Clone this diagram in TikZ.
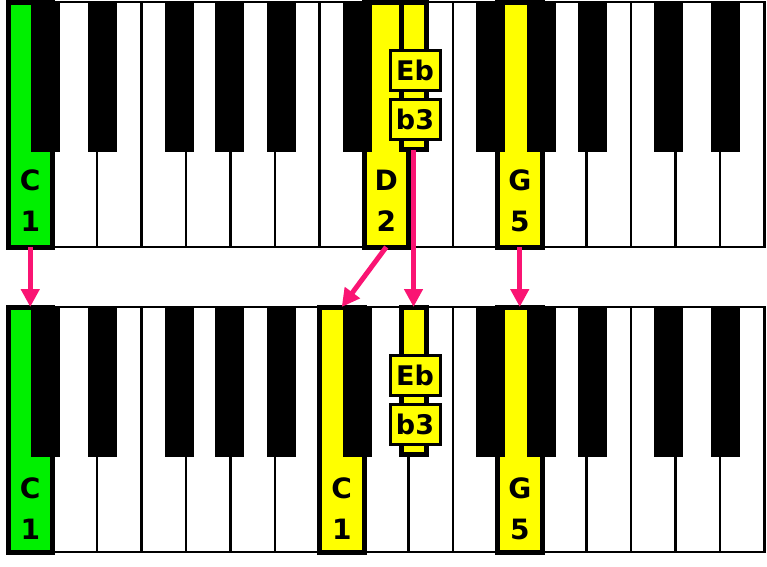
\documentclass[tikz,border=0pt]{standalone}
\usepackage{fontspec}
\setmainfont{DejaVu Sans}
\usepackage{xcolor}
\usepackage{tikz}
\usetikzlibrary{arrows.meta, positioning}
\definecolor{keygreen}{RGB}{0,240,0}
\definecolor{keyyellow}{RGB}{255,255,0}
\definecolor{arrowpink}{RGB}{250,20,115}
\tikzstyle{whitekey} = [rectangle, draw=black, line width=2.5pt, fill=white, minimum width=44.5pt, minimum height=245pt, inner sep=0pt, outer sep=0pt, anchor=north west]
\tikzstyle{blackkey} = [rectangle, fill=black, minimum width=29pt, minimum height=150pt, inner sep=0pt, outer sep=0pt, anchor=north]
\tikzstyle{hlwhite} = [whitekey, line width=5pt]
\tikzstyle{hlblack} = [blackkey, draw=black, fill=keyyellow, line width=5pt, minimum width=25pt, minimum height=147.5pt]
\tikzstyle{notebox} = [rectangle, draw=black, line width=3pt, fill=keyyellow, minimum width=50pt, minimum height=40pt, inner sep=0pt, font=\fontsize{27}{30}\selectfont\bfseries]
\tikzstyle{keylabel} = [inner sep=0pt, font=\fontsize{28}{30}\selectfont\bfseries]
\tikzstyle{arrow} = [line width=5pt, draw=arrowpink, -{Triangle[width=18pt,length=18pt]}]

\begin{document}
\begin{tikzpicture}[x=1pt, y=-1pt]
    \useasboundingbox (0,0) rectangle (767,566);

    % upper keyboard
    \foreach \i in {0,...,16}
        \node (tw\i) [whitekey] at ({8+44.5*\i},2) {};
    \node (topC) [hlwhite, fill=keygreen] at (tw0.north west) {};
    \node (topD) [hlwhite, fill=keyyellow] at (tw8.north west) {};
    \node (topG) [hlwhite, fill=keyyellow] at (tw11.north west) {};
    \foreach \i/\off in {1/-7,2/5,4/-7,5/-1,6/6,8/-7,9/5,11/-7,12/-1,13/6,15/-7,16/5}
        \node (tb\i) [blackkey] at ({8+44.5*\i+\off},2) {};
    \node (topEb) [hlblack] at (tb9.north) {};

    \node (topEbname) [notebox, xshift=1.5pt, yshift=-68pt] at (topEb.north) {Eb};
    \node (topEbdeg) [notebox, below=6pt of topEbname] {b3};

    \node (topCname) [keylabel, yshift=67pt] at (topC.south) {C};
    \node (topCdeg) [keylabel, yshift=26pt] at (topC.south) {1};
    \node (topDname) [keylabel, yshift=67pt] at (topD.south) {D};
    \node (topDdeg) [keylabel, yshift=26pt] at (topD.south) {2};
    \node (topGname) [keylabel, yshift=67pt] at (topG.south) {G};
    \node (topGdeg) [keylabel, yshift=26pt] at (topG.south) {5};

    % lower keyboard
    \foreach \i in {0,...,16}
        \node (bw\i) [whitekey] at ({8+44.5*\i},307) {};
    \node (botC) [hlwhite, fill=keygreen] at (bw0.north west) {};
    \node (botCC) [hlwhite, fill=keyyellow] at (bw7.north west) {};
    \node (botG) [hlwhite, fill=keyyellow] at (bw11.north west) {};
    \foreach \i/\off in {1/-7,2/5,4/-7,5/-1,6/6,8/-7,9/5,11/-7,12/-1,13/6,15/-7,16/5}
        \node (bb\i) [blackkey] at ({8+44.5*\i+\off},307) {};
    \node (botEb) [hlblack] at (bb9.north) {};

    \node (botEbname) [notebox, xshift=1.5pt, yshift=-68pt] at (botEb.north) {Eb};
    \node (botEbdeg) [notebox, below=6pt of botEbname] {b3};

    \node (botCname) [keylabel, yshift=64pt] at (botC.south) {C};
    \node (botCdeg) [keylabel, yshift=23pt] at (botC.south) {1};
    \node (botCCname) [keylabel, yshift=64pt] at (botCC.south) {C};
    \node (botCCdeg) [keylabel, yshift=23pt] at (botCC.south) {1};
    \node (botGname) [keylabel, yshift=64pt] at (botG.south) {G};
    \node (botGdeg) [keylabel, yshift=23pt] at (botG.south) {5};

    \draw [arrow] (topC.south) -- (botC.north);
    \draw [arrow] (topD.south) -- (botCC.north);
    \draw [arrow] (topEb.south) -- (botEb.north);
    \draw [arrow] (topG.south) -- (botG.north);
\end{tikzpicture}
\end{document}
